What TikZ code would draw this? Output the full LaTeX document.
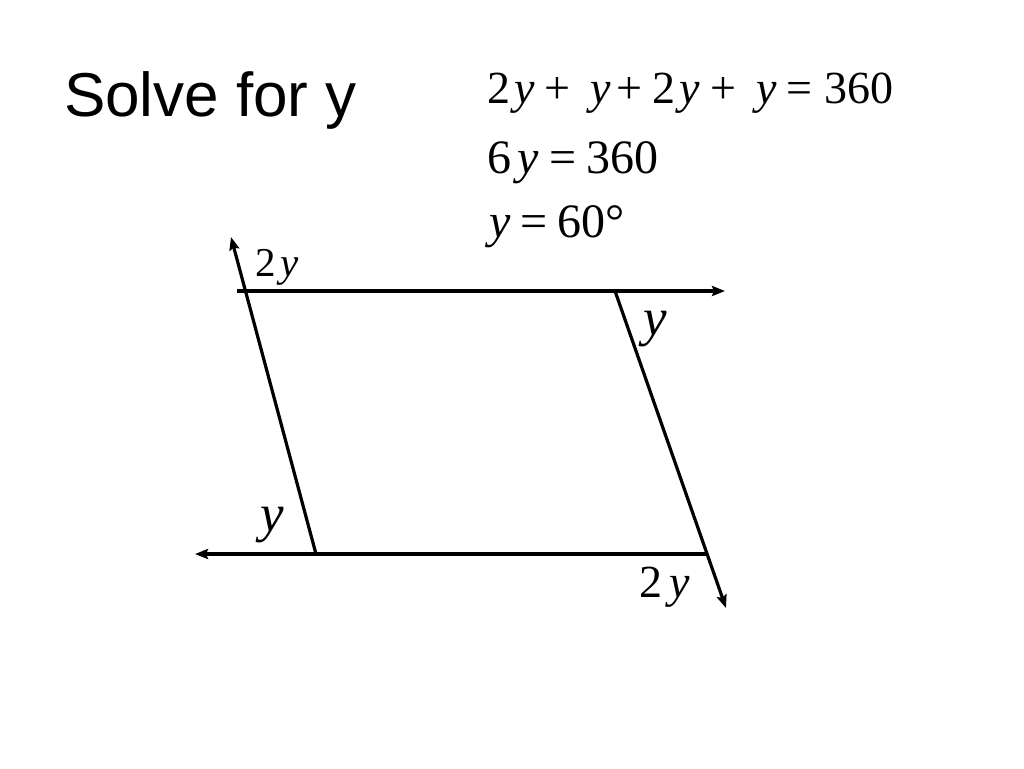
\documentclass[tikz,border=0pt]{standalone}
\usepackage{fontspec}
\setmainfont{Liberation Serif}
\newfontfamily\titlefont{Liberation Sans}
\usetikzlibrary{arrows.meta}
\newcommand{\vy}{\textit{y}}
\begin{document}
\begin{tikzpicture}[x=1pt,y=-1pt,
  ln/.style={line width=3.2pt},
  arr/.style={ln,-{Stealth[length=13pt,width=10pt,inset=2pt]}},
  lbl/.style={anchor=base west,inner sep=0pt,outer sep=0pt},
  eq/.style={lbl,font=\fontsize{46}{50}\selectfont},
  eqb/.style={lbl,font=\fontsize{48}{52}\selectfont},
  big/.style={lbl,font=\fontsize{53}{56}\selectfont},
  small/.style={lbl,font=\fontsize{41}{46}\selectfont}]
\fill[white] (0,0) rectangle (1024,768);
\useasboundingbox (0,0) rectangle (1024,768);
% title
\node[lbl,font=\titlefont\fontsize{62}{66}\selectfont] (title) at (64,116) {Solve for y};
% equations
\node[eq] (eq1) at (487,103) {2\hspace{4pt}\vy\hspace{10pt}+\hspace{20pt}\vy\hspace{6pt}+\hspace{10pt}2\hspace{4pt}\vy\hspace{10pt}+\hspace{20pt}\vy\hspace{10pt}=\hspace{12pt}360};
\node[eqb] (eq2) at (487,173) {6\hspace{6pt}\vy\hspace{11pt}=\hspace{10pt}360};
\node[eqb] (eq3) at (489,237) {\vy\hspace{10pt}=\hspace{10pt}60°};
% geometry
\coordinate (TL) at (243,291);
\coordinate (TLs) at (237,291);
\coordinate (TR) at (615,291);
\coordinate (Tend) at (725,291);
\coordinate (BL) at (316,554);
\coordinate (BR) at (707,554);
\coordinate (Bend) at (195,554);
\coordinate (Ltip) at (231,237);
\coordinate (Rtip) at (726,608);
\draw[arr] (TLs) -- (Tend);
\draw[arr] (BR) -- (Bend);
\draw[arr] (BL) -- (Ltip);
\draw[arr] (TR) -- (Rtip);
% angle labels
\node[small] (a1) at (255,276) {2\hspace{5pt}\vy};
\node[big] (a2) at (643,335) {\vy};
\node[big] (a3) at (260,531) {\vy};
\node[eq] (a4) at (639,597) {2\hspace{7pt}\vy};
\end{tikzpicture}
\end{document}
